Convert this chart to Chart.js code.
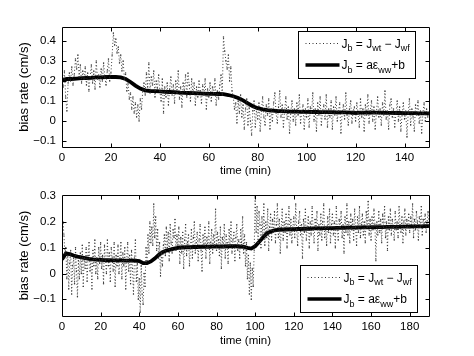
<!DOCTYPE html>
<html><head><meta charset="utf-8">
<script src="https://cdn.jsdelivr.net/npm/chart.js@4/dist/chart.umd.min.js"></script>
<style>
html,body{margin:0;padding:0;background:#fff;}
#wrap{position:relative;width:474px;height:356px;overflow:hidden;}
canvas{position:absolute;left:0;}
</style></head><body>
<div id="wrap">
<canvas id="c1" width="474" height="178" style="top:0"></canvas>
<canvas id="c2" width="474" height="178" style="top:178px"></canvas>
</div>
<script>
// ---------- DATA ----------
const seriesNames = ["Jb = Jwt − Jwf", "Jb = aεww+b"];

// top panel: measured bias rate (sampled every 0.5 min, 0..150)
const topNoisyStep = 0.5;
const topNoisy = [
 .21,.17,.25,.12,.05,.19,.24,.20,.27,.18,.23,.31,.26,.33,.22,.28,.19,.25,.21,.27,
 .18,.24,.15,.22,.28,.19,.25,.16,.30,.21,.23,.17,.26,.20,.29,.22,.18,.25,.31,.20,
 .24,.33,.44,.38,.41,.34,.37,.29,.33,.25,.30,.21,.24,.15,.19,.11,.14,.06,.12,.04,
 .09,.02,.08,.00,.11,.06,.15,.19,.13,.24,.17,.29,.14,.22,.18,.25,.12,.20,.16,.23,
 .15,.10,.21,.04,.17,.12,.19,.08,.16,.22,.13,.18,.09,.20,.14,.25,.11,.17,.07,.19,
 .15,.23,.12,.24,.18,.10,.21,.14,.19,.08,.17,.12,.20,.15,.09,.18,.13,.21,.06,.16,
 .12,.19,.10,.17,.14,.21,.08,.15,.11,.18,.23,.13,.42,.35,.30,.26,.33,.20,.27,.15,
 .12,.06,.09,-.01,.10,.04,.13,.02,.08,-.04,.06,.11,-.02,.07,.00,-.07,.05,.10,-.03,.06,
 .01,.09,-.05,.05,.12,.02,-.02,.08,.03,.11,-.04,.06,.00,.09,.14,.04,-.01,.07,.15,.02,
 .08,-.03,.05,.12,.01,.07,-.06,.04,.10,.00,.06,-.02,.09,.03,.13,-.01,.05,.08,-.04,.06,
 .02,.11,-.03,.07,.04,.14,.00,.06,-.05,.09,.03,.12,-.02,.05,.08,.01,.13,-.03,.06,.02,
 .10,-.04,.07,.03,.12,.00,.05,.09,-.06,.04,.08,.01,.14,.03,-.02,.06,.10,-.01,.05,.07,
 .00,.09,.04,-.03,.11,.02,.06,-.05,.08,.03,.13,-.01,.05,.10,.00,.07,-.04,.04,.12,.02,
 .06,-.02,.09,.03,.15,.01,.05,-.04,.08,.11,.02,.06,-.03,.04,.10,.00,.07,-.05,.03,.09,
 .01,.05,-.08,.04,.11,-.02,.06,.02,-.05,.08,.03,.10,-.01,.05,-.06,.04,.09,.00,.06,.02,
 .04
];
// top panel: fitted bias rate (every 2 min, 0..150)
const topFitStep = 2;
const topFit = [
 .205,.21,.21,.212,.214,.215,.216,.218,.218,.22,.22,.22,.218,.21,.195,.177,.162,.153,.15,.149,
 .148,.146,.145,.144,.142,.141,.14,.139,.138,.137,.136,.136,.135,.134,.13,.124,.115,.103,.088,.074,
 .064,.058,.054,.052,.05,.049,.048,.047,.047,.046,.046,.045,.045,.044,.044,.044,.043,.043,.043,.042,
 .04,.042,.042,.043,.042,.042,.041,.041,.04,.04,.039,.039,.039,.038,.038,.038
];
const topXTicks = [0,20,40,60,80,100,120,140];
const topYTicks = [-0.1,0,0.1,0.2,0.3,0.4];

// bottom panel: measured bias rate (every 0.5 min, 0..190)
const botNoisyStep = 0.5;
const botNoisy = [
 .13,.20,.15,.08,.10,-.02,.07,-.06,.04,.09,-.08,.03,.06,-.04,.10,.01,-.09,.05,-.02,.08,
 .00,.11,-.05,.06,.02,.10,-.03,.07,.12,.01,.05,-.06,.09,.03,.13,.00,.06,-.02,.10,.04,
 .12,.02,.07,-.04,.11,.05,.00,.13,.03,.08,-.03,.10,.06,.01,.12,-.05,.07,.03,.11,.00,
 .06,.12,-.02,.08,.03,.10,-.06,.05,.12,.01,.07,-.04,.09,.02,-.08,.06,.13,-.03,.04,-.10,
 -.02,-.15,.03,-.08,-.12,.00,-.05,.10,.05,.15,.08,.20,.12,.18,.11,.27,.14,.22,.09,.17,
 .06,.12,-.01,.08,.03,.11,.15,.07,.18,.10,.16,.05,.19,.12,.08,.17,.14,.21,.09,.15,
 .11,.18,.04,.14,.08,.16,.02,.13,.19,.07,.12,.15,.03,.10,.17,.06,.14,.20,.08,.12,
 .16,.05,.13,.19,.09,.01,.15,.11,.18,.06,.14,.10,.20,.04,.12,.17,.08,.15,.11,.25,
 .09,.16,.13,.07,.18,.02,.14,.10,.19,.06,.15,.12,.04,.17,.11,.20,.08,.13,.16,.05,
 .14,.19,.09,.13,.06,.17,.11,.22,.08,.15,.03,.12,-.02,.07,-.08,.04,-.10,.02,-.05,.09,
 .30,.16,.26,.12,.24,.19,.10,.22,.15,.27,.11,.20,.14,.25,.09,.18,.23,.13,.21,.16,
 .24,.12,.19,.27,.14,.21,.08,.18,.25,.13,.20,.16,.23,.10,.19,.26,.15,.21,.12,.18,
 .22,.14,.27,.17,.11,.20,.24,.15,.19,.06,.21,.16,.25,.13,.18,.22,.10,.20,.15,.26,
 .17,.12,.21,.18,.24,.09,.19,.15,.23,.13,.20,.27,.14,.18,.11,.22,.16,.25,.12,.19,
 .23,.15,.20,.10,.26,.17,.13,.21,.18,.24,.14,.19,.08,.22,.16,.27,.15,.20,.12,.23,
 .17,.21,.13,.25,.18,.11,.22,.16,.26,.14,.19,.23,.15,.20,.12,.24,.18,.28,.15,.21,
 .13,.22,.17,.25,.19,.05,.20,.15,.24,.16,.21,.12,.23,.18,.26,.14,.20,.09,.22,.17,
 .25,.15,.21,.18,.13,.24,.17,.20,.14,.26,.19,.16,.22,.12,.20,.25,.15,.21,.18,.23,
 .16,.22,.19,.27,.14,.21,.17,.24,.20,.13,.22,.18,.26,.15,.21,.19,.23,.16,.20,.24,
 .18
];
// bottom panel: fitted bias rate (every 2 min, 0..190)
const botFitStep = 2;
const botFit = [
 .055,.078,.075,.07,.066,.063,.06,.057,.055,.054,.053,.052,.052,.051,.051,.051,.05,.05,.05,.05,
 .048,.04,.04,.047,.058,.072,.083,.089,.093,.097,.1,.101,.102,.102,.103,.103,.104,.104,.104,.105,
 .105,.105,.105,.106,.106,.106,.105,.104,.1,.097,.106,.122,.14,.155,.163,.168,.17,.171,.171,.172,
 .172,.173,.173,.174,.174,.175,.175,.175,.176,.176,.176,.177,.177,.177,.178,.178,.178,.179,.179,.179,
 .18,.18,.18,.18,.181,.181,.181,.181,.182,.182,.182,.183,.183,.183,.184,.184
];
const botXTicks = [0,20,40,60,80,100,120,140,160,180];
const botYTicks = [-0.1,0,0.1,0.2,0.3];

// ---------- HELPERS ----------
const FONT = '"Liberation Sans", Arial, Helvetica, sans-serif';
const toXY = (arr, step) => arr.map((v, i) => ({x: i * step, y: v}));
const fmtY = v => {
  if (Math.abs(v) < 1e-9) return '0';
  return (v < 0 ? '\u2212' : '') + Math.abs(v).toFixed(1);
};

function drawRich(ctx, parts, x, y, size, subSize) {
  ctx.textBaseline = 'alphabetic';
  ctx.textAlign = 'left';
  ctx.fillStyle = '#000';
  for (const p of parts) {
    ctx.font = (p.s ? subSize : size) + 'px ' + FONT;
    ctx.fillText(p.t, x, y + (p.s ? 3.5 : 0));
    x += ctx.measureText(p.t).width;
  }
}
const legendRows = [
  [{t:'J'},{t:'b',s:1},{t:' = J'},{t:'wt',s:1},{t:' \u2212 J'},{t:'wf',s:1}],
  [{t:'J'},{t:'b',s:1},{t:' = a\u03b5'},{t:'ww',s:1},{t:'+b'}]
];

const framePlugin = {
  id: 'frame',
  afterDatasetsDraw(chart) {
    const {ctx, chartArea: a, scales} = chart;
    ctx.save();
    ctx.strokeStyle = '#000';
    ctx.lineWidth = 1;
    ctx.beginPath();
    const L = Math.round(a.left) + 0.5, R = Math.round(a.right) + 0.5;
    const T = Math.round(a.top) + 0.5, B = Math.round(a.bottom) + 0.5;
    ctx.rect(L, T, R - L, B - T);
    const tl = 4;
    scales.x.ticks.forEach(t => {
      const px = Math.round(scales.x.getPixelForValue(t.value)) + 0.5;
      if (px <= L + 1 || px >= R - 1) return;
      ctx.moveTo(px, B); ctx.lineTo(px, B - tl);
      ctx.moveTo(px, T); ctx.lineTo(px, T + tl);
    });
    scales.y.ticks.forEach(t => {
      const py = Math.round(scales.y.getPixelForValue(t.value)) + 0.5;
      if (py <= T + 1 || py >= B - 1) return;
      ctx.moveTo(L, py); ctx.lineTo(L + tl, py);
      ctx.moveTo(R, py); ctx.lineTo(R - tl, py);
    });
    ctx.stroke();

    // legend
    const lg = chart.options.plugins.richLegend;
    const w = 117, h = 47;
    const bx = Math.round(a.right - lg.right - w) + 0.5;
    const by = lg.top != null ? Math.round(a.top + lg.top) + 0.5 : Math.round(a.bottom - lg.bottom - h) + 0.5;
    ctx.fillStyle = '#fff';
    ctx.fillRect(bx, by, w, h);
    ctx.strokeRect(bx, by, w, h);
    const rowsY = [by + 12, by + 33.5];
    ctx.save();
    ctx.strokeStyle = '#333';
    ctx.setLineDash([1, 2.5]);
    ctx.beginPath(); ctx.moveTo(bx + 7, rowsY[0]); ctx.lineTo(bx + 41, rowsY[0]); ctx.stroke();
    ctx.restore();
    ctx.save();
    ctx.lineWidth = 3.5; ctx.strokeStyle = '#000';
    ctx.beginPath(); ctx.moveTo(bx + 7, rowsY[1]); ctx.lineTo(bx + 41, rowsY[1]); ctx.stroke();
    ctx.restore();
    drawRich(ctx, legendRows[0], bx + 43, rowsY[0] + 4, 12, 9);
    drawRich(ctx, legendRows[1], bx + 43, rowsY[1] + 4, 12, 9);
    ctx.restore();
  }
};

function makeChart(id, cfg) {
  return new Chart(document.getElementById(id), {
    type: 'line',
    data: {
      datasets: [
        { label: seriesNames[0], data: toXY(cfg.noisy, cfg.noisyStep),
          borderColor: '#2a2a2a', borderWidth: 0.9, borderDash: [1, 2.2],
          pointRadius: 0.7, pointBorderWidth: 0, pointBackgroundColor: '#333',
          tension: 0, fill: false },
        { label: seriesNames[1], data: toXY(cfg.fit, cfg.fitStep),
          borderColor: '#000', borderWidth: 3.8,
          pointRadius: 0, tension: 0, fill: false }
      ]
    },
    options: {
      responsive: false, animation: false, devicePixelRatio: 1,
      layout: { padding: { top: cfg.padTop, right: 45, left: 0, bottom: cfg.padBottom } },
      plugins: {
        legend: { display: false }, tooltip: { enabled: false },
        richLegend: cfg.legend
      },
      scales: {
        x: {
          type: 'linear', min: cfg.xMin, max: cfg.xMax,
          afterBuildTicks: s => { s.ticks = cfg.xTicks.map(v => ({value: v})); },
          afterFit: s => { s.height = cfg.xHeight; },
          grid: { display: false, drawTicks: false },
          border: { display: false },
          ticks: { color: '#000', font: { family: FONT, size: 11.5 }, padding: 4,
                   maxRotation: 0, autoSkip: false, callback: v => String(v) },
          title: { display: true, text: 'time (min)', color: '#000',
                   font: { family: FONT, size: 11.5 }, padding: { top: 0, bottom: cfg.xTitlePad } }
        },
        y: {
          type: 'linear', min: cfg.yMin, max: cfg.yMax,
          afterBuildTicks: s => { s.ticks = cfg.yTicks.map(v => ({value: v})); },
          afterFit: s => { s.width = 62; },
          grid: { display: false, drawTicks: false },
          border: { display: false },
          ticks: { color: '#000', font: { family: FONT, size: 11.5 }, padding: 6,
                   autoSkip: false, callback: v => fmtY(v) },
          title: { display: true, text: 'bias rate (cm/s)', color: '#000',
                   font: { family: FONT, size: 13 }, padding: { top: 17, bottom: 0 } }
        }
      }
    },
    plugins: [framePlugin]
  });
}

makeChart('c1', {
  noisy: topNoisy, noisyStep: topNoisyStep, fit: topFit, fitStep: topFitStep,
  xMin: 0, xMax: 150, yMin: -0.13, yMax: 0.47, xTicks: topXTicks, yTicks: topYTicks,
  padTop: 27, padBottom: 0, xHeight: 31, xTitlePad: 0,
  legend: { right: 14, top: 4 }
});
makeChart('c2', {
  noisy: botNoisy, noisyStep: botNoisyStep, fit: botFit, fitStep: botFitStep,
  xMin: 0, xMax: 190, yMin: -0.165, yMax: 0.305, xTicks: botXTicks, yTicks: botYTicks,
  padTop: 17, padBottom: 0, xHeight: 40, xTitlePad: 8,
  legend: { right: 12.5, bottom: 4 }
});
</script>
</body></html>
